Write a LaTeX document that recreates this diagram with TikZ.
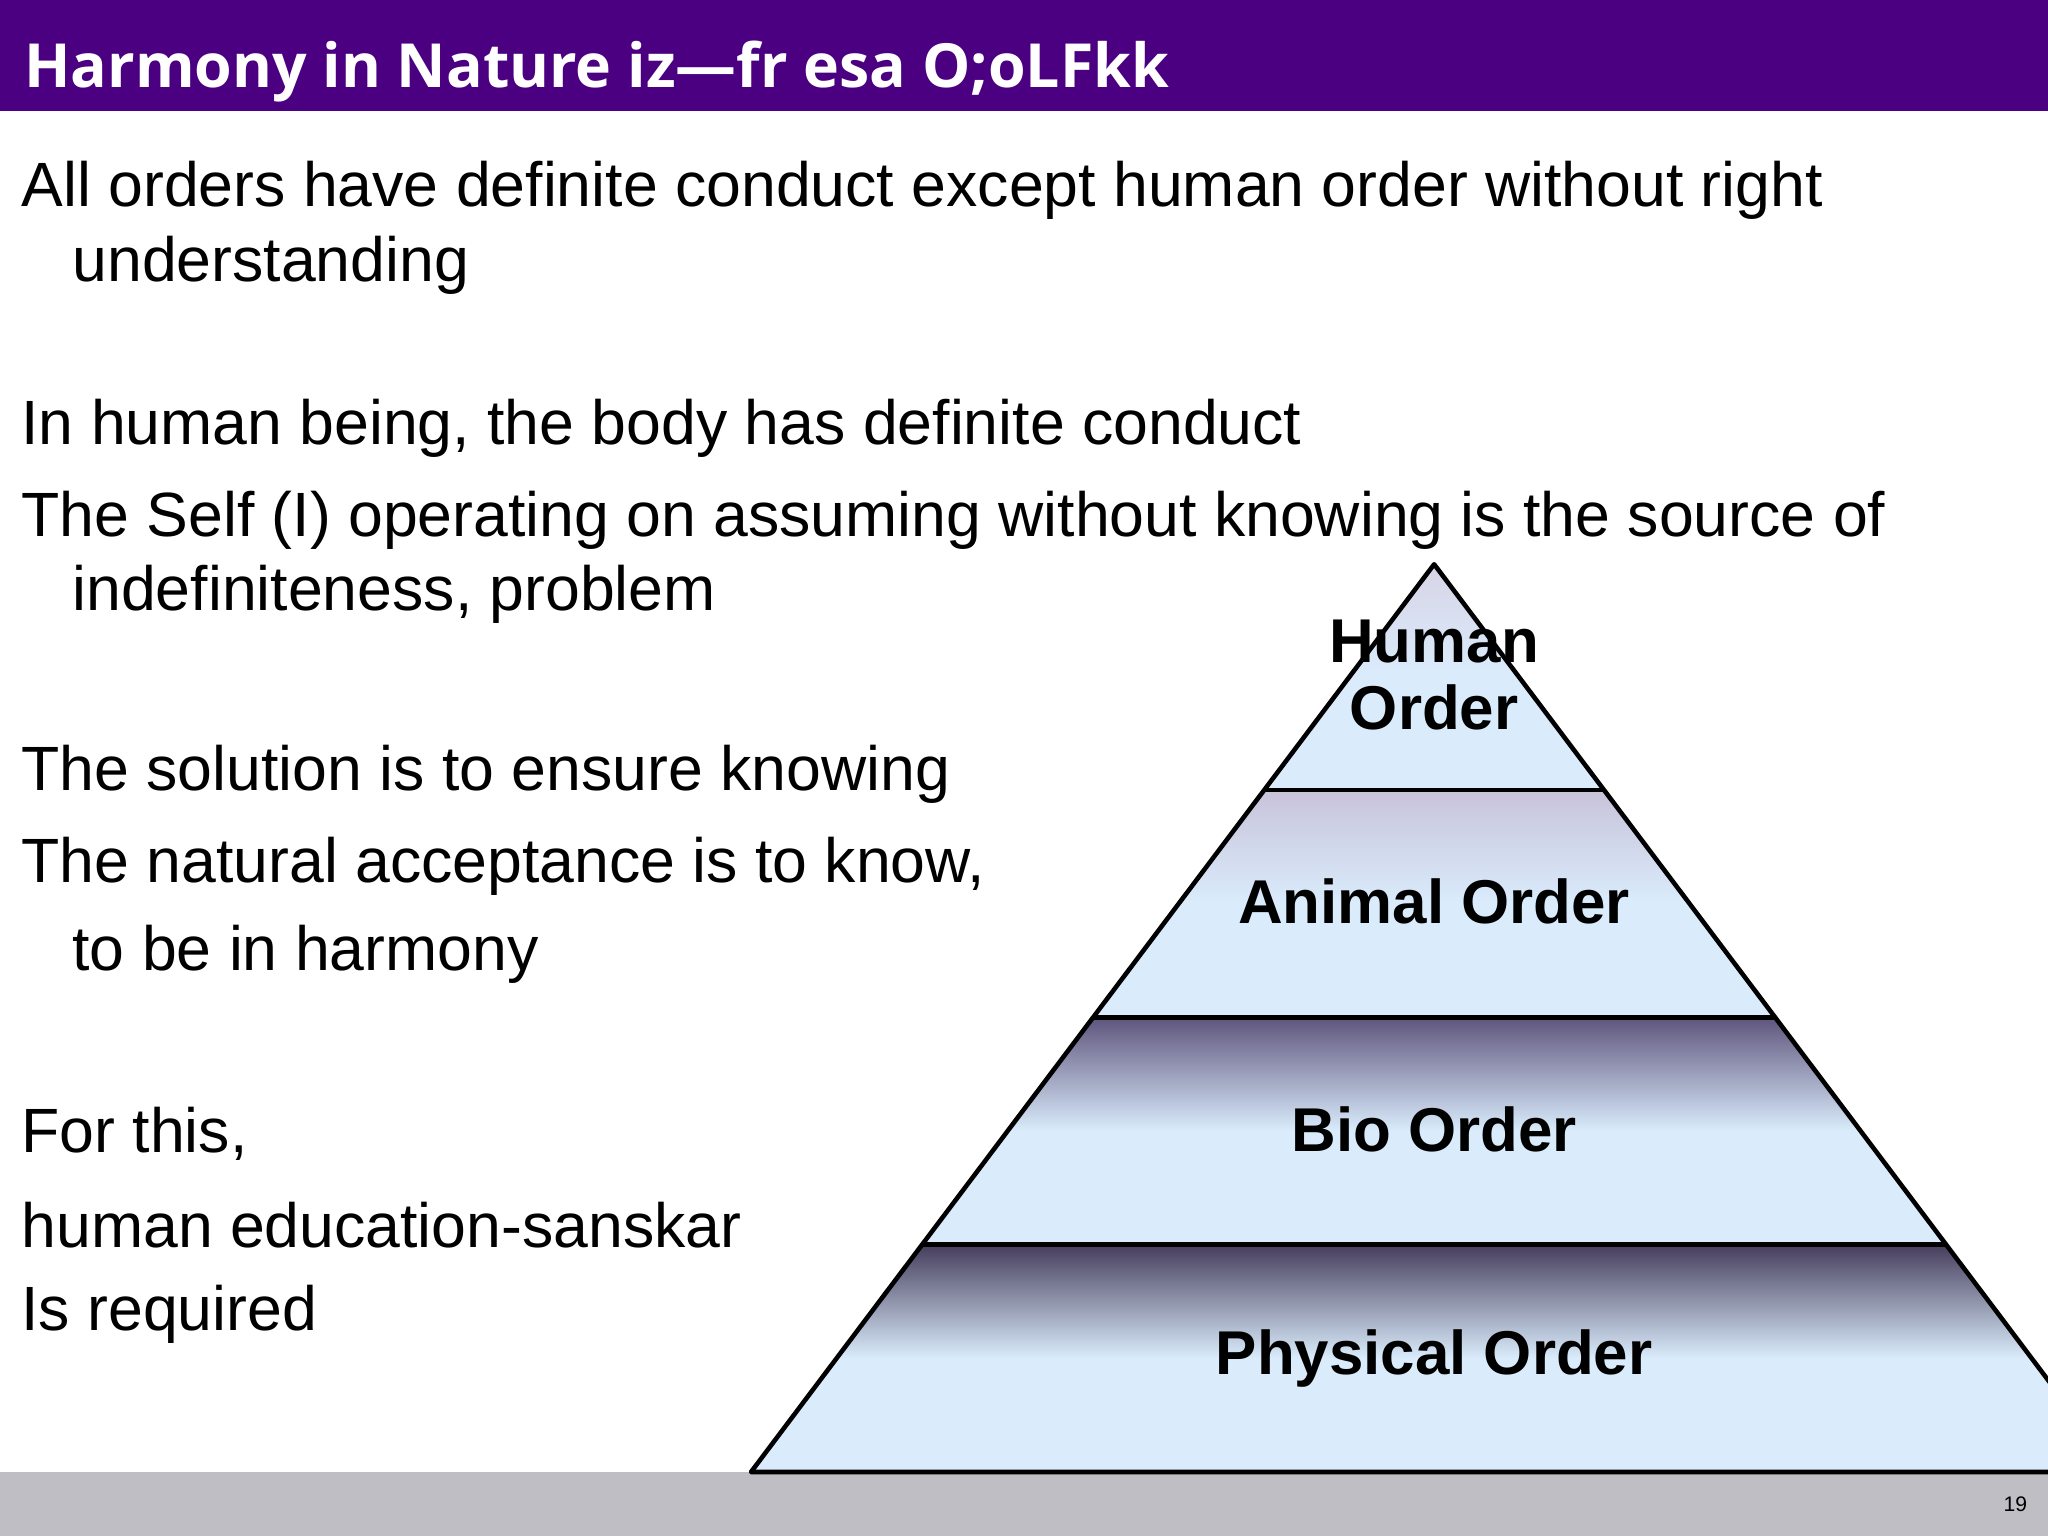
\documentclass[tikz,border=0pt]{standalone}
\usepackage{fontspec}
\setmainfont{Liberation Sans}
\newfontfamily\titlefont{Open Sans}
\definecolor{titlepurple}{RGB}{75,0,130}
\definecolor{footgray}{RGB}{190,190,196}
\definecolor{lightband}{RGB}{218,236,252}
\definecolor{topshade}{RGB}{215,212,230}
\definecolor{animalshade}{RGB}{200,195,218}
\definecolor{bioshade}{RGB}{95,85,125}
\definecolor{physshade}{RGB}{70,62,92}
\tikzset{
  bodytext/.style={anchor=west, inner sep=0pt, font=\fontsize{17.8}{20}\selectfont},
  layerlabel/.style={align=center, font=\fontsize{17.6}{19}\selectfont\bfseries},
  band/.style={draw=black, line width=1.3pt, line join=round},
}
\begin{document}
\begin{tikzpicture}[x=0.013061cm, y=-0.013061cm]
  \useasboundingbox (0,0) rectangle (1568,1176);
  % title bar and footer
  \fill[titlepurple] (0,0) rectangle (1568,85);
  \node (title) [anchor=west, inner sep=0pt, text=white, font=\fontsize{17.3}{20}\selectfont\titlefont\bfseries] at (18,55) {Harmony in Nature iz—fr esa O;oLFkk};
  \fill[footgray] (0,1127) rectangle (1568,1176);
  \node (pagenum) [font=\fontsize{6}{7}\selectfont] at (1543,1152) {19};

  % body text
  \node (t1) [bodytext] at (16,146) {All orders have definite conduct except human order without right};
  \node (t2) [bodytext] at (55,203) {understanding};
  \node (t3) [bodytext] at (16,328) {In human being, the body has definite conduct};
  \node (t4) [bodytext] at (16,398) {The Self (I) operating on assuming without knowing is the source of};
  \node (t5) [bodytext] at (55,455) {indefiniteness, problem};
  \node (t6) [bodytext] at (16,593) {The solution is to ensure knowing};
  \node (t7) [bodytext] at (16,663) {The natural acceptance is to know,};
  \node (t8) [bodytext] at (55,731) {to be in harmony};
  \node (t9) [bodytext] at (16,868) {For this,};
  \node (t10) [bodytext] at (16,938) {human education-sanskar};
  \node (t11) [bodytext] at (16,1006) {Is required};

  % pyramid
  \begin{scope}
    \clip (0,0) rectangle (1568,1176);
    \shade[top color=topshade, bottom color=lightband, middle color=lightband] (1098,432) -- (1229,605) -- (967,605) -- cycle;
    \shade[top color=animalshade, bottom color=lightband, middle color=lightband] (967,605) -- (1229,605) -- (1360,779) -- (836,779) -- cycle;
    \shade[top color=bioshade, bottom color=lightband, middle color=lightband] (836,779) -- (1360,779) -- (1490,953) -- (706,953) -- cycle;
    \shade[top color=physshade, bottom color=lightband, middle color=lightband] (706,953) -- (1490,953) -- (1621,1127) -- (575,1127) -- cycle;
    \draw[band] (1098,432) -- (1621,1127) -- (575,1127) -- cycle;
    \draw[band] (967,605) -- (1229,605);
    \draw[band] (836,779) -- (1360,779);
    \draw[band] (706,953) -- (1490,953);
  \end{scope}
  \node (human) [layerlabel] at (1098,517) {Human\\Order};
  \node (animal) [layerlabel] at (1098,690) {Animal Order};
  \node (bio) [layerlabel] at (1098,865) {Bio Order};
  \node (physical) [layerlabel] at (1098,1040) {Physical Order};
\end{tikzpicture}
\end{document}
